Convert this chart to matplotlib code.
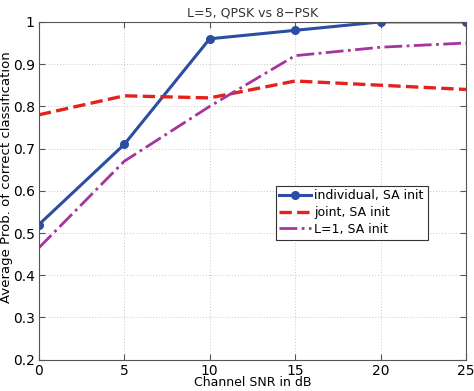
import matplotlib
matplotlib.use("Agg")
import matplotlib.pyplot as plt

snr = [0, 5, 10, 15, 20, 25]
individual = [0.52, 0.71, 0.96, 0.98, 1.0, 1.0]
joint = [0.78, 0.825, 0.82, 0.86, 0.85, 0.84]
single = [0.465, 0.67, 0.80, 0.92, 0.94, 0.95]
yticks = [0.2, 0.3, 0.4, 0.5, 0.6, 0.7, 0.8, 0.9, 1]
ytick_labels = ["0.2", "0.3", "0.4", "0.5", "0.6", "0.7", "0.8", "0.9", "1"]

fig = plt.figure(figsize=(4.74, 3.91), dpi=100)
ax = fig.add_axes([0.082, 0.08, 0.901, 0.864])

ax.plot(snr, individual, "-o", color="#2b4ea2", lw=2.2, ms=5.5, label="individual, SA init")
ax.plot(snr, joint, "--", color="#e3221c", lw=2.4, label="joint, SA init")
ax.plot(snr, single, "-.", color="#a3359c", lw=2.0, label="L=1, SA init")

ax.set_xlim(0, 25)
ax.set_ylim(0.2, 1)
ax.set_xticks(snr)
ax.set_yticks(yticks)
ax.set_yticklabels(ytick_labels)
ax.tick_params(direction="in", top=True, right=True, labelsize=10, length=4,
               color="#555555", pad=3)
ax.grid(True, linestyle=(0, (1, 2)), color="#c8c8c8", lw=0.7)
for s in ax.spines.values():
    s.set_color("#555555")

ax.set_title("L=5, QPSK vs 8\u2212PSK", fontsize=9, color="#333333", pad=4)
ax.set_xlabel("Channel SNR in dB", fontsize=9, labelpad=-1)
ax.set_ylabel("Average Prob. of correct classification", fontsize=9.5)
ax.yaxis.set_label_coords(-0.06, 0.54)

leg = ax.legend(loc="lower left", bbox_to_anchor=(0.54, 0.337), fontsize=9,
                fancybox=False, framealpha=1, edgecolor="#333333",
                handlelength=2.5, borderpad=0.3, labelspacing=0.3, handletextpad=0.3)
leg.get_frame().set_linewidth(0.8)

fig.savefig("out.png", dpi=100)
